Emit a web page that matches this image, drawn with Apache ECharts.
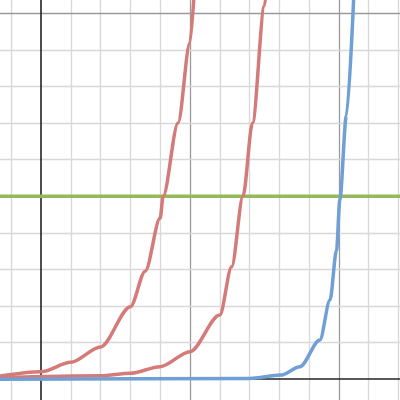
<!DOCTYPE html>
<html><head><meta charset="utf-8">
<script src="https://cdn.jsdelivr.net/npm/echarts@6/dist/echarts.min.js"></script>
<style>html,body{margin:0;background:#fff}#c{width:400px;height:400px}</style>
</head><body><div id="c"></div>
<script>
var chart = echarts.init(document.getElementById('c'), null, {renderer: 'svg'});

// readings from the picture (graph units)
var red1X = [-1.4, 0, 1, 2, 3, 3.5, 4, 4.1, 4.6, 5, 5.2];
var red1Y = [0.08, 0.2, 0.46, 0.88, 1.98, 2.95, 4.4, 5, 7, 9.2, 11.4];
var red2X = [-1.4, 2, 3, 4, 5, 6, 6.4, 6.78, 7.1, 7.5, 7.65];
var red2Y = [0.04, 0.09, 0.16, 0.34, 0.75, 1.75, 3.07, 5, 7, 10.2, 11.4];
var blueX = [-1.4, 7, 8.05, 8.69, 9.36, 9.7, 9.92, 10.03, 10.25, 10.5];
var blueY = [0, 0.02, 0.11, 0.34, 1.07, 2.16, 3.52, 4.9, 7.2, 10.5];
var greenY = 5;
var gridX = [-1, 1, 2, 3, 4, 5, 6, 7, 8, 9, 10, 11, 12];
var gridY = [1, 2, 3, 4, 5, 6, 7, 8, 9, 10];

function pts(xs, ys) { return xs.map(function (x, i) { return [x, ys[i]]; }); }

var gridLines = [];
gridX.forEach(function (v) {
    gridLines.push({xAxis: v, lineStyle: {color: v % 5 === 0 ? '#9a9a9a' : '#d8d8d8', width: 1.3, type: 'solid'}});
});
gridY.forEach(function (v) {
    gridLines.push({yAxis: v, lineStyle: {color: v % 5 === 0 ? '#9a9a9a' : '#d8d8d8', width: 1.3, type: 'solid'}});
});
gridLines.push({xAxis: 0, lineStyle: {color: '#222', width: 1.6, type: 'solid'}});
gridLines.push({yAxis: 0, lineStyle: {color: '#222', width: 1.6, type: 'solid'}});

function curve(data, color) {
    return {type: 'line', data: data, smooth: 0.3, smoothMonotone: 'x', showSymbol: false, clip: true,
        lineStyle: {color: color, width: 3.5}, z: 5};
}

chart.setOption({
    animation: false,
    grid: {left: 0, right: 0, top: 0, bottom: 0},
    xAxis: {type: 'value', min: -1.376, max: 12.05, show: false, splitLine: {show: false}},
    yAxis: {type: 'value', min: -0.57, max: 10.36, show: false, splitLine: {show: false}},
    series: [
        {type: 'line', data: [], silent: true, z: 0,
            markLine: {symbol: 'none', silent: true, z: 0, label: {show: false}, animation: false, data: gridLines}},
        {type: 'line', data: [[-1.376, greenY], [12.05, greenY]], showSymbol: false,
            lineStyle: {color: '#93b95a', width: 3.5}, z: 4},
        curve(pts(red1X, red1Y), '#d47a78'),
        curve(pts(red2X, red2Y), '#d47a78'),
        curve(pts(blueX, blueY), '#6f9fd4')
    ]
});
</script></body></html>
